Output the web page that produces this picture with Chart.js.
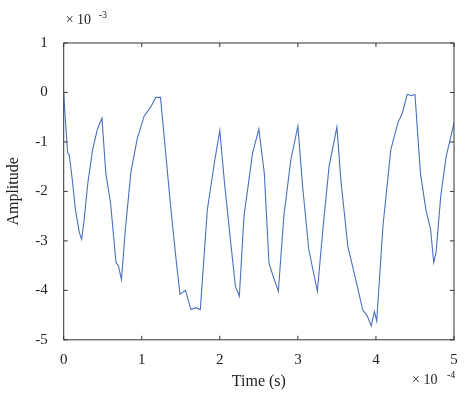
<!DOCTYPE html>
<html>
<head>
<script src="https://cdn.jsdelivr.net/npm/chart.js@4"></script>
<style>
  body { margin: 0; background: #fff; }
  #wrap { width: 474px; height: 403px; }
</style>
</head>
<body>
<div id="wrap"><canvas id="c"></canvas></div>
<script>
// time in units of 1e-4 s, amplitude in units of 1e-3
const timeVals = [0, 0.01, 0.05, 0.07, 0.11, 0.15, 0.2, 0.23, 0.26, 0.31, 0.37, 0.43, 0.49, 0.54, 0.6, 0.67, 0.7, 0.74, 0.79, 0.86, 0.94, 1.03, 1.12, 1.18, 1.24, 1.37, 1.44, 1.49, 1.56, 1.63, 1.69, 1.75, 1.84, 1.93, 2.0, 2.06, 2.14, 2.2, 2.25, 2.31, 2.42, 2.5, 2.57, 2.63, 2.68, 2.75, 2.82, 2.91, 3.0, 3.06, 3.14, 3.25, 3.32, 3.4, 3.5, 3.55, 3.64, 3.72, 3.83, 3.89, 3.94, 3.98, 4.01, 4.09, 4.19, 4.28, 4.34, 4.4, 4.46, 4.5, 4.57, 4.64, 4.7, 4.74, 4.77, 4.83, 4.9, 5.0];
const ampVals = [0, -0.28, -1.22, -1.25, -1.76, -2.37, -2.83, -2.97, -2.6, -1.82, -1.16, -0.75, -0.52, -1.64, -2.23, -3.44, -3.5, -3.78, -2.77, -1.62, -0.95, -0.48, -0.28, -0.1, -0.1, -2.3, -3.38, -4.08, -4.0, -4.39, -4.35, -4.39, -2.37, -1.42, -0.77, -1.83, -3.04, -3.92, -4.12, -2.5, -1.22, -0.74, -1.63, -3.45, -3.7, -4.02, -2.5, -1.36, -0.68, -1.89, -3.18, -4.02, -2.77, -1.49, -0.7, -1.76, -3.11, -3.64, -4.39, -4.52, -4.72, -4.43, -4.62, -2.7, -1.16, -0.62, -0.41, -0.04, -0.06, -0.04, -1.63, -2.37, -2.77, -3.44, -3.24, -2.1, -1.29, -0.62];
const xTicks = [0, 1, 2, 3, 4, 5];
const yTicks = [1, 0, -1, -2, -3, -4, -5];

const FONT = 'Liberation Serif';

const frame = {
  id: 'frame',
  afterDraw(chart) {
    const { ctx, chartArea: a, scales: { x, y } } = chart;
    ctx.save();
    ctx.strokeStyle = '#333';
    ctx.lineWidth = 1;
    ctx.strokeRect(a.left, a.top, a.right - a.left, a.bottom - a.top);
    ctx.beginPath();
    xTicks.forEach(v => {
      const p = x.getPixelForValue(v);
      ctx.moveTo(p, a.bottom); ctx.lineTo(p, a.bottom - 4);
      ctx.moveTo(p, a.top); ctx.lineTo(p, a.top + 4);
    });
    yTicks.forEach(v => {
      const p = y.getPixelForValue(v);
      ctx.moveTo(a.left, p); ctx.lineTo(a.left + 4, p);
      ctx.moveTo(a.right, p); ctx.lineTo(a.right - 4, p);
    });
    ctx.stroke();
    ctx.fillStyle = '#222';
    ctx.textAlign = 'left';
    ctx.font = '14px "' + FONT + '"';
    ctx.fillText('\u00d7 10', a.left + 2, a.top - 19);
    ctx.font = '10px "' + FONT + '"';
    ctx.fillText('-3', a.left + 35, a.top - 25);
    ctx.font = '14px "' + FONT + '"';
    ctx.fillText('\u00d7 10', a.right - 42, a.bottom + 44);
    ctx.font = '10px "' + FONT + '"';
    ctx.fillText('-4', a.right - 7, a.bottom + 38);
    ctx.restore();
  }
};

new Chart(document.getElementById('c'), {
  type: 'line',
  data: {
    datasets: [{
      data: timeVals.map((t, i) => ({ x: t, y: ampVals[i] })),
      borderColor: '#4a70bf',
      borderWidth: 1.1,
      pointRadius: 0,
      tension: 0
    }]
  },
  options: {
    responsive: true,
    maintainAspectRatio: false,
    animation: false,
    layout: { padding: { top: 43, right: 20, bottom: 8, left: 0 } },
    plugins: { legend: { display: false }, tooltip: { enabled: false } },
    scales: {
      x: {
        type: 'linear', min: 0, max: 5,
        afterBuildTicks: s => { s.ticks = xTicks.map(v => ({ value: v })); },
        grid: { display: false },
        border: { display: false },
        ticks: { color: '#222', font: { family: FONT, size: 15 }, padding: 3 },
        title: { display: true, text: 'Time (s)', color: '#222', font: { family: FONT, size: 16 }, padding: { top: 0 } }
      },
      y: {
        min: -5, max: 1,
        afterBuildTicks: s => { s.ticks = yTicks.map(v => ({ value: v })); },
        grid: { display: false },
        border: { display: false },
        ticks: { color: '#222', font: { family: FONT, size: 15 }, padding: 8 },
        title: { display: true, text: 'Amplitude', color: '#222', font: { family: FONT, size: 16 }, padding: { bottom: 4 } }
      }
    }
  },
  plugins: [frame]
});
</script>
</body>
</html>
